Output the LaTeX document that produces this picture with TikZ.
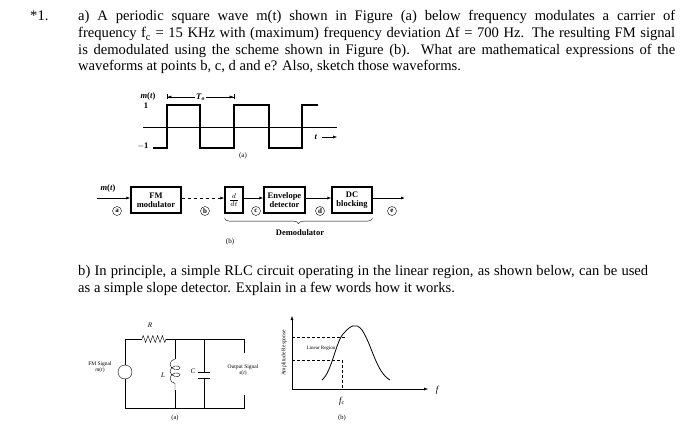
\documentclass[tikz,border=0pt]{standalone}
\usepackage{fontspec}
\setmainfont{Liberation Serif}
\usetikzlibrary{arrows.meta,decorations.pathreplacing,decorations.pathmorphing}
\begin{document}
\begin{tikzpicture}[x=1pt,y=-1pt,
  txt/.style={anchor=base west,inner sep=0,font=\fontsize{14.6}{16}\selectfont},
  blk/.style={draw,line width=1.2pt,minimum height=26pt,inner sep=1pt,align=center,font=\fontsize{8.5}{9}\selectfont\bfseries},
  circ/.style={circle,draw,minimum size=9pt,inner sep=0pt,font=\fontsize{7}{7}\selectfont\bfseries},
  sm/.style={font=\fontsize{8.5}{9}\selectfont\bfseries,inner sep=0},
  tiny/.style={font=\fontsize{5.5}{6}\selectfont,inner sep=0,align=center},
  wire/.style={line width=0.9pt},
  ar/.style={-{Latex[length=4pt,width=3pt]}}]
\useasboundingbox (0,0) rectangle (700,435);
% question text
\node[txt] (num) at (30,21) {*1.};
\node[txt] (l1) at (78,21) {\makebox[597pt][s]{a) A periodic square wave m(t) shown in Figure (a) below frequency modulates a carrier of}};
\node[txt] (l2) at (78,38) {\makebox[597pt][s]{frequency f\textsubscript{c} = 15 KHz with (maximum) frequency deviation Δf = 700 Hz. The resulting FM signal}};
\node[txt] (l3) at (78,55) {\makebox[597pt][s]{is demodulated using the scheme shown in Figure (b). What are mathematical expressions of the}};
\node[txt] (l4) at (78,71) {waveforms at points b, c, d and e? Also, sketch those waveforms.};
% square wave
\draw[wire] (143,127) -- (337,127);
\draw[line width=1.3pt] (153,148) -- (167,148) -- (167,105) -- (200,105) -- (200,148) -- (234,148) -- (234,105) -- (269,105) -- (269,148) -- (302,148) -- (302,105) -- (318,105);
\node[sm] (mt) at (148,96) {\textit{m}(\textit{t})};
\node[sm] (one) at (146,106) {1};
\node[sm] (mone) at (143,146) {$-$1};
\coordinate (t1) at (167,97); \coordinate (t2) at (234,97);
\draw[{Bar[width=5pt]Latex[length=4pt,width=3pt]}-{Latex[length=4pt,width=3pt]Bar[width=5pt]}] (t1) -- node[fill=white,sm,inner sep=1pt]{\textit{T}\textsubscript{\textit{o}}} (t2);
\node[sm] (tl) at (316,137) {\textit{t}};
\coordinate (ta) at (322,137); \coordinate (tb) at (337,137);
\draw[ar,thin] (ta) -- (tb);
\node[sm,font=\fontsize{7}{8}\selectfont] (ca) at (243,156) {(a)};
% block diagram
\coordinate (in) at (97,198);
\node[blk,minimum width=50pt] (fm) at (156,200) {FM\\modulator};
\node[blk,minimum width=18pt,font=\fontsize{10}{10}\selectfont\bfseries] (dd) at (234,200) {$\frac{d}{dt}$};
\node[blk,minimum width=41pt] (env) at (284.5,200) {Envelope\\detector};
\node[blk,minimum width=40pt] (dc) at (352,200) {DC\\blocking};
\coordinate (out) at (405,198);
\draw[wire,ar] (in) -- (fm.west |- in);
\draw[wire,dashed,ar] (fm.east |- in) -- (dd.west |- in);
\draw[wire,ar] (dd.east |- in) -- (env.west |- in);
\draw[wire,ar] (env.east |- in) -- (dc.west |- in);
\draw[wire,ar] (dc.east |- in) -- (out);
\node[sm] (mt2) at (108,188) {\textit{m}(\textit{t})};
\node[circ] (pa) at (117,211) {a};
\node[circ] (pb) at (205,211) {b};
\node[circ] (pc) at (256,211) {c};
\node[circ] (pd) at (320,211) {d};
\node[circ] (pe) at (392,211) {e};
\draw[decorate,decoration={brace,mirror,amplitude=5pt}] (dd.south west) ++(0,5) coordinate (bs) -- (dc.south east |- bs) coordinate (be);
\node[sm] (demod) at (300,233) {Demodulator};
\node[sm,font=\fontsize{7}{8}\selectfont] (cb) at (230,242) {(b)};
% part b text
\node[txt] (m1) at (78,275) {\makebox[570pt][s]{b) In principle, a simple RLC circuit operating in the linear region, as shown below, can be used}};
\node[txt] (m2) at (78,292) {as a simple slope detector. Explain in a few words how it works.};
% circuit
\coordinate (tl) at (125,339); \coordinate (bl) at (125,408);
\coordinate (r1) at (142,339); \coordinate (r2) at (166,339);
\coordinate (lt) at (175,339); \coordinate (lb) at (175,408);
\coordinate (ct) at (204,339); \coordinate (cb2) at (204,408);
\coordinate (ot) at (244,339); \coordinate (ob) at (244,408);
\node[circle,draw,minimum size=14pt,inner sep=0] (src) at (125,372) {};
\draw (src.north) -- (tl) -- (r1);
\draw[decorate,decoration={zigzag,segment length=4.8pt,amplitude=3.5pt}] (r1) -- (r2);
\draw (r2) -- (ot) -- (244,353);
\draw (src.south) -- (bl) -- (ob) -- (244,395);
\draw (lt) -- (175,359);
\draw[decorate,decoration={coil,aspect=0.7,segment length=7pt,amplitude=5pt,mirror}] (175,359) -- (175,390);
\draw (175,390) -- (lb);
\draw (ct) -- (204,372) (198,372) -- (210,372) (198,378) -- (210,378) (204,378) -- (cb2);
\node[tiny,font=\fontsize{7}{8}\selectfont\itshape] (rl) at (150,325) {R};
\node[tiny,font=\fontsize{7}{8}\selectfont\itshape] (ll) at (163,375) {L};
\node[tiny,font=\fontsize{7}{8}\selectfont\itshape] (cl) at (193,371) {C};
\node[tiny] (fms) at (100,367) {FM Signal\\\textit{m}(\textit{t})};
\node[tiny] (os) at (243,370) {Output Signal\\\textit{s}(\textit{t})};
\node[tiny,font=\fontsize{6.5}{7}\selectfont] (capa) at (175,418) {(a)};
% response graph
\coordinate (org) at (292,389); \coordinate (ytop) at (292,316); \coordinate (xend) at (428,389);
\draw[ar,thin] (org) -- (ytop);
\draw[ar,thin] (org) -- (xend);
\draw[thick] (322,380) .. controls (332,372) and (336,340) .. (344,333) .. controls (350,326) and (356,322) .. (362,330) .. controls (372,345) and (376,372) .. (390,380);
\draw[densely dashed,thin] (292,337) -- (345,337) (292,360) -- (342,360) -- (342,389);
\node[tiny,font=\fontsize{5}{6}\selectfont] (lr) at (321,348) {Linear Region};
\node[tiny,rotate=90] (amp) at (284,353) {Amplitude Response};
\node[tiny,font=\fontsize{9}{9}\selectfont\itshape] (fl) at (437,390) {f};
\node[tiny,font=\fontsize{9}{9}\selectfont\itshape] (fcl) at (342,401) {f\textsubscript{c}};
\node[tiny,font=\fontsize{6.5}{7}\selectfont] (capb) at (342,418) {(b)};
\end{tikzpicture}
\end{document}
